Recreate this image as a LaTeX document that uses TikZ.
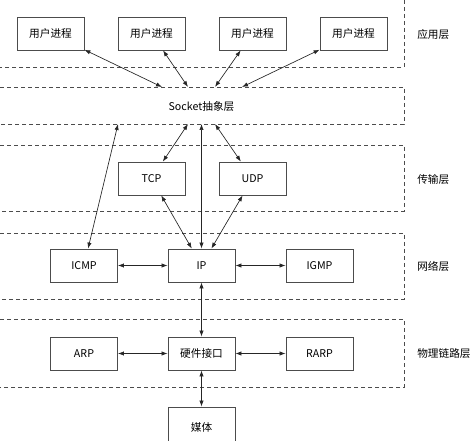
\documentclass[tikz,border=0pt]{standalone}
\usepackage{fontspec}
\setmainfont{Noto Sans CJK SC}
\usetikzlibrary{arrows.meta}

\tikzset{
  proc/.style={draw=black!70, line width=0.6pt, minimum width=50.25pt, minimum height=24.75pt, inner sep=0pt, font=\fontsize{8}{9}\selectfont},
  layer/.style={draw=black!70, dash pattern={on 3pt off 2.25pt}, line width=0.5pt},
  link/.style={{Latex[length=4.5pt,width=3.2pt]}-{Latex[length=4.5pt,width=3.2pt]}, line width=0.5pt, draw=black!85},
  tag/.style={font=\fontsize{8}{9}\selectfont, inner sep=0pt, anchor=west}
}

\begin{document}
\begin{tikzpicture}[x=0.75pt,y=0.75pt,yscale=-1,xscale=1]
\useasboundingbox (0,0) rectangle (474,441);

%Shape: Layer bands
\draw [layer] (404,0) -- (404,67) -- (0,67) ;
\draw [layer] (0,87) -- (404,87) -- (404,124) -- (0,124) ;
\draw [layer] (0,145) -- (404,145) -- (404,211) -- (0,211) ;
\draw [layer] (0,233) -- (404,233) -- (404,299) -- (0,299) ;
\draw [layer] (0,319) -- (404,319) -- (404,387) -- (0,387) ;

%Shape: Rectangle (application)
\node [proc] (u1) at (50.5,33.5) {用户进程};
\node [proc] (u2) at (151.5,33.5) {用户进程};
\node [proc] (u3) at (252.5,33.5) {用户进程};
\node [proc] (u4) at (353.5,33.5) {用户进程};

% Text Node
\node [font=\fontsize{8}{9}\selectfont, inner sep=0pt] (sock) at (201.5,106) {Socket抽象层};
\coordinate (st1) at (162,87);
\coordinate (st2) at (188,87);
\coordinate (st3) at (215,87);
\coordinate (st4) at (242,87);
\coordinate (sb1) at (118,124);
\coordinate (sb2) at (188,124);
\coordinate (sb3) at (201.5,124);
\coordinate (sb4) at (215,124);

%Shape: Rectangle (transport)
\node [proc] (tcp) at (151.5,178.5) {TCP};
\node [proc] (udp) at (252.5,178.5) {UDP};

%Shape: Rectangle (network)
\node [proc] (icmp) at (84,265.5) {ICMP};
\node [proc] (ip) at (201.5,265.5) {IP};
\node [proc] (igmp) at (319.5,265.5) {IGMP};

%Shape: Rectangle (link)
\node [proc] (arp) at (84,353.5) {ARP};
\node [proc] (hw) at (201.5,353.5) {硬件接口};
\node [proc] (rarp) at (319.5,353.5) {RARP};
\node [proc, minimum height=30pt] (media) at (201.5,427) {媒体};

%Straight Lines
\draw [link] (u1) -- (st1) ;
\draw [link] (u2) -- (st2) ;
\draw [link] (u3) -- (st3) ;
\draw [link] (u4) -- (st4) ;
\draw [link] (sb1) -- (icmp) ;
\draw [link] (sb2) -- (tcp) ;
\draw [link] (sb3) -- (ip) ;
\draw [link] (sb4) -- (udp) ;
\draw [link] (tcp) -- (ip) ;
\draw [link] (udp) -- (ip) ;
\draw [link] (icmp) -- (ip) ;
\draw [link] (ip) -- (igmp) ;
\draw [link] (ip) -- (hw) ;
\draw [link] (arp) -- (hw) ;
\draw [link] (hw) -- (rarp) ;
\draw [link] (hw) -- (media) ;

% Text Node
\node [tag] (lapp) at (417,34) {应用层};
% Text Node
\node [tag] (ltrans) at (417,179) {传输层};
% Text Node
\node [tag] (lnet) at (417,266) {网络层};
% Text Node
\node [tag] (llink) at (417,353) {物理链路层};
\end{tikzpicture}
\end{document}
